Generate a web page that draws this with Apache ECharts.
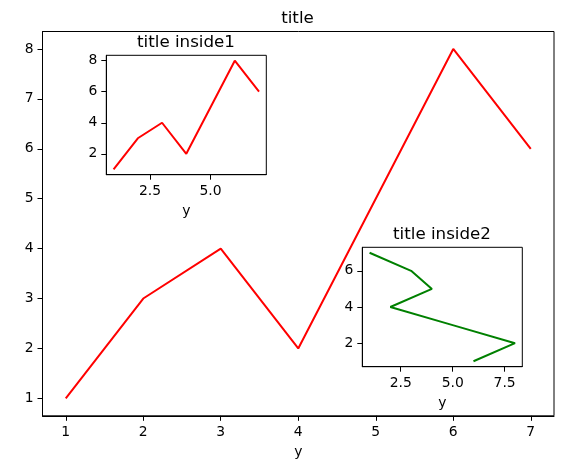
<!DOCTYPE html>
<html><head><meta charset="utf-8">
<script src="https://cdn.jsdelivr.net/npm/echarts@6/dist/echarts.min.js"></script>
<style>html,body{margin:0;padding:0;background:#fff}#c{width:581px;height:461px}</style>
</head><body><div id="c"></div>
<script>
// ---- data ----
const xValues = [1, 2, 3, 4, 5, 6, 7];
const yValues = [1, 3, 4, 2, 5, 8, 6];
const yReversed = [6, 8, 5, 2, 4, 3, 1];
const mainXTicks = [1, 2, 3, 4, 5, 6, 7];
const mainYTicks = [1, 2, 3, 4, 5, 6, 7, 8];
const inset1XTicks = [2.5, 5.0];
const inset1YTicks = [2, 4, 6, 8];
const inset2XTicks = [2.5, 5.0, 7.5];
const inset2YTicks = [2, 4, 6];
const titleMain = 'title';
const titleInset1 = 'title inside1';
const titleInset2 = 'title inside2';
const xAxisLabel = 'y';

const FONT = 'DejaVu Sans';
const chart = echarts.init(document.getElementById('c'), null, {renderer: 'canvas'});

function pairs(xs, ys) { return xs.map((x, i) => [x, ys[i]]); }
function pad(arr) {
  const lo = Math.min(...arr), hi = Math.max(...arr), m = (hi - lo) * 0.05;
  return [lo - m, hi + m];
}
function axis(isX, gridIndex, range, ticks, decimals, name, nameGap) {
  const a = {
    type: 'value', gridIndex: gridIndex, min: range[0], max: range[1],
    position: isX ? 'bottom' : 'left',
    axisLine: {show: true, onZero: false, lineStyle: {color: '#000', width: 1}},
    axisTick: {show: true, inside: false, length: 5, customValues: ticks, lineStyle: {color: '#000', width: 1}},
    axisLabel: {show: true, customValues: ticks, margin: isX ? 10 : 9, color: '#000', fontFamily: FONT, fontSize: 13.9,
      formatter: v => Number(v).toFixed(decimals)},
    splitLine: {show: false}
  };
  if (name) {
    a.name = name; a.nameLocation = 'middle'; a.nameGap = nameGap;
    a.nameTextStyle = {color: '#000', fontFamily: FONT, fontSize: 13.9};
  }
  return a;
}

const titleStyle = {fontFamily: FONT, fontSize: 16.7, fontWeight: 'normal', color: '#000'};
const gridBase = {show: true, borderColor: '#000', borderWidth: 1, backgroundColor: '#fff', containLabel: false, outerBoundsMode: 'none'};
const option = {
  animation: false,
  backgroundColor: '#fff',
  title: [
    {text: titleMain, left: 297.5, top: 10, textAlign: 'center', padding: 0, textStyle: titleStyle},
    {text: titleInset1, left: 186, top: 34, textAlign: 'center', padding: 0, textStyle: titleStyle},
    {text: titleInset2, left: 442, top: 226.5, textAlign: 'center', padding: 0, textStyle: titleStyle}
  ],
  grid: [
    Object.assign({left: 42.5, top: 31.5, width: 511.5, height: 384.3}, gridBase),
    Object.assign({left: 106.3, top: 55.3, width: 160, height: 119.4}, gridBase),
    Object.assign({left: 362.3, top: 247.3, width: 160, height: 119.4}, gridBase)
  ],
  xAxis: [
    axis(true, 0, pad(xValues), mainXTicks, 0, xAxisLabel, 30),
    axis(true, 1, pad(xValues), inset1XTicks, 1, xAxisLabel, 30),
    axis(true, 2, pad(yReversed), inset2XTicks, 1, xAxisLabel, 30)
  ],
  yAxis: [
    axis(false, 0, pad(yValues), mainYTicks, 0),
    axis(false, 1, pad(yValues), inset1YTicks, 0),
    axis(false, 2, pad(xValues), inset2YTicks, 0)
  ],
  series: [
    {type: 'line', xAxisIndex: 0, yAxisIndex: 0, data: pairs(xValues, yValues), showSymbol: false,
      lineStyle: {color: '#ff0000', width: 2}, itemStyle: {color: '#ff0000'}},
    {type: 'line', xAxisIndex: 1, yAxisIndex: 1, data: pairs(xValues, yValues), showSymbol: false,
      lineStyle: {color: '#ff0000', width: 2}, itemStyle: {color: '#ff0000'}},
    {type: 'line', xAxisIndex: 2, yAxisIndex: 2, data: pairs(yReversed, xValues), showSymbol: false,
      lineStyle: {color: '#008000', width: 2}, itemStyle: {color: '#008000'}}
  ]
};
chart.setOption(option);
</script></body></html>
